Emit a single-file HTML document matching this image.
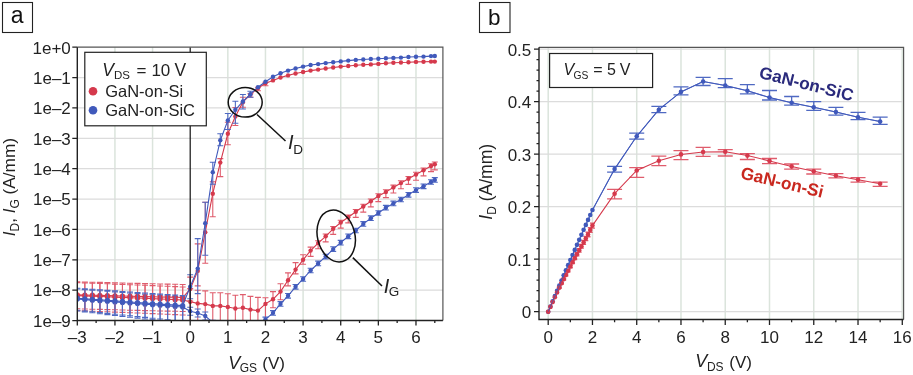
<!DOCTYPE html>
<html><head><meta charset="utf-8"><title>Figure</title>
<style>html,body{margin:0;padding:0;background:#fff;width:913px;height:375px;overflow:hidden;}
svg{display:block;font-family:"Liberation Sans",sans-serif;will-change:transform;}</style></head>
<body>
<svg width="913" height="375" viewBox="0 0 913 375">
<defs><clipPath id="ca"><rect x="77.3" y="47.2" width="365.6" height="273.3"/></clipPath>
<clipPath id="cb"><rect x="539" y="47.3" width="364.6" height="272.2"/></clipPath></defs>
<rect width="913" height="375" fill="#fff"/>
<rect x="2.5" y="2.5" width="30" height="30" fill="none" stroke="#222" stroke-width="1.1"/>
<text x="10.72" y="23.4" font-size="23" font-family="'Liberation Sans', sans-serif" fill="#111">a</text>
<rect x="479.5" y="2.5" width="30.5" height="30" fill="none" stroke="#222" stroke-width="1.1"/>
<text x="488.05" y="25.4" font-size="22.5" font-family="'Liberation Sans', sans-serif" fill="#111">b</text>
<path d="M114.94 47.2V320.5M152.57 47.2V320.5M227.83 47.2V320.5M265.46 47.2V320.5M303.09 47.2V320.5M340.72 47.2V320.5M378.35 47.2V320.5M415.98 47.2V320.5" stroke="#dbe4dc" stroke-width="1.5" fill="none"/>
<path d="M77.3 77.57H442.9M77.3 107.94H442.9M77.3 138.31H442.9M77.3 168.68H442.9M77.3 199.05H442.9M77.3 229.42H442.9M77.3 259.79H442.9M77.3 290.16H442.9" stroke="#dcdcdc" stroke-width="1.3" fill="none"/>
<g clip-path="url(#ca)">
<path d="M77.31 282.6V310.6M74.31 282.6h6M74.31 310.6h6M84.84 282.9V310.9M81.84 282.9h6M81.84 310.9h6M92.36 283.2V311.2M89.36 283.2h6M89.36 311.2h6M99.89 283.5V311.5M96.89 283.5h6M96.89 311.5h6M107.41 283.8V311.8M104.41 283.8h6M104.41 311.8h6M114.94 284.1V312.1M111.94 284.1h6M111.94 312.1h6M122.47 284.4V312.4M119.47 284.4h6M119.47 312.4h6M129.99 284.7V312.7M126.99 284.7h6M126.99 312.7h6M137.52 285V313M134.52 285h6M134.52 313h6M145.04 285.3V313.3M142.04 285.3h6M142.04 313.3h6M152.57 285.6V313.6M149.57 285.6h6M149.57 313.6h6M160.1 285.95V313.95M157.1 285.95h6M157.1 313.95h6M167.62 286.3V314.3M164.62 286.3h6M164.62 314.3h6M175.15 286.65V314.65M172.15 286.65h6M172.15 314.65h6M182.67 287V315M179.67 287h6M179.67 315h6M190.2 288.6V321.8M187.2 288.6h6M187.2 321.8h6M197.73 290.2V323.4M194.73 290.2h6M194.73 323.4h6M205.25 290.9V324.1M202.25 290.9h6M202.25 324.1h6M212.78 292.7V325.9M209.78 292.7h6M209.78 325.9h6M220.3 292.7V325.9M217.3 292.7h6M217.3 325.9h6M227.83 293.8V327M224.83 293.8h6M224.83 327h6M235.36 295.3V328.5M232.36 295.3h6M232.36 328.5h6M242.88 294.6V327.8M239.88 294.6h6M239.88 327.8h6M250.41 296.4V329.6M247.41 296.4h6M247.41 329.6h6M257.93 297.4V330.6M254.93 297.4h6M254.93 330.6h6M265.46 297.7V323.9M262.46 297.7h6M262.46 323.9h6M272.99 291.6V307.8M269.99 291.6h6M269.99 307.8h6M280.51 283.7V299.7M277.51 283.7h6M277.51 299.7h6M288.04 272.9V285.9M285.04 272.9h6M285.04 285.9h6M295.56 262.6V273.9M292.56 262.6h6M292.56 273.9h6M303.09 254.8V264.2M300.09 254.8h6M300.09 264.2h6M310.62 247.1V256.4M307.62 247.1h6M307.62 256.4h6M318.14 240.8V248.7M315.14 240.8h6M315.14 248.7h6M325.67 234V241.9M322.67 234h6M322.67 241.9h6M333.19 226.5V234.4M330.19 226.5h6M330.19 234.4h6M340.72 220.2V228.1M337.72 220.2h6M337.72 228.1h6M348.25 215V222.9M345.25 215h6M345.25 222.9h6M355.77 209.5V217.4M352.77 209.5h6M352.77 217.4h6M363.3 204.2V212.1M360.3 204.2h6M360.3 212.1h6M370.82 199V206.9M367.82 199h6M367.82 206.9h6M378.35 193.7V201.6M375.35 193.7h6M375.35 201.6h6M385.88 189.7V197.6M382.88 189.7h6M382.88 197.6h6M393.4 185.1V193M390.4 185.1h6M390.4 193h6M400.93 180.8V188.7M397.93 180.8h6M397.93 188.7h6M408.45 176.5V184.4M405.45 176.5h6M405.45 184.4h6M415.98 172.3V180.2M412.98 172.3h6M412.98 180.2h6M423.51 168V175.9M420.51 168h6M420.51 175.9h6M431.03 163.7V171.6M428.03 163.7h6M428.03 171.6h6M434.8 162V169.9M431.8 162h6M431.8 169.9h6" stroke="#df5c6c" stroke-width="1.1" fill="none"/>
<path d="M77.31 295.6L84.84 295.9L92.36 296.2L99.89 296.5L107.41 296.8L114.94 297.1L122.47 297.4L129.99 297.7L137.52 298L145.04 298.3L152.57 298.6L160.1 298.95L167.62 299.3L175.15 299.65L182.67 300L190.2 301.8L197.73 303.4L205.25 304.1L212.78 305.9L220.3 305.9L227.83 307L235.36 308.5L242.88 307.8L250.41 309.6L257.93 310.6L265.46 303.9L272.99 299.3L280.51 291.6L288.04 280.3L295.56 269.6L303.09 259.8L310.62 250.6L318.14 243.1L325.67 236.3L333.19 228.8L340.72 222.5L348.25 217.3L355.77 211.8L363.3 206.5L370.82 201.3L378.35 196L385.88 192L393.4 187.4L400.93 183.1L408.45 178.8L415.98 174.6L423.51 170.3L431.03 166L434.8 164.3" stroke="#d5394c" stroke-width="1.1" fill="none"/>
<circle fill="#d5394c" cx="77.31" cy="295.6" r="2.6"/>
<circle fill="#d5394c" cx="84.84" cy="295.9" r="2.6"/>
<circle fill="#d5394c" cx="92.36" cy="296.2" r="2.6"/>
<circle fill="#d5394c" cx="99.89" cy="296.5" r="2.6"/>
<circle fill="#d5394c" cx="107.41" cy="296.8" r="2.6"/>
<circle fill="#d5394c" cx="114.94" cy="297.1" r="2.6"/>
<circle fill="#d5394c" cx="122.47" cy="297.4" r="2.6"/>
<circle fill="#d5394c" cx="129.99" cy="297.7" r="2.6"/>
<circle fill="#d5394c" cx="137.52" cy="298" r="2.6"/>
<circle fill="#d5394c" cx="145.04" cy="298.3" r="2.6"/>
<circle fill="#d5394c" cx="152.57" cy="298.6" r="2.6"/>
<circle fill="#d5394c" cx="160.1" cy="298.95" r="2.6"/>
<circle fill="#d5394c" cx="167.62" cy="299.3" r="2.6"/>
<circle fill="#d5394c" cx="175.15" cy="299.65" r="2.6"/>
<circle fill="#d5394c" cx="182.67" cy="300" r="2.6"/>
<circle fill="#d5394c" cx="190.2" cy="301.8" r="2.2"/>
<circle fill="#d5394c" cx="197.73" cy="303.4" r="2.2"/>
<circle fill="#d5394c" cx="205.25" cy="304.1" r="2.2"/>
<circle fill="#d5394c" cx="212.78" cy="305.9" r="2.2"/>
<circle fill="#d5394c" cx="220.3" cy="305.9" r="2.2"/>
<circle fill="#d5394c" cx="227.83" cy="307" r="2.2"/>
<circle fill="#d5394c" cx="235.36" cy="308.5" r="2.2"/>
<circle fill="#d5394c" cx="242.88" cy="307.8" r="2.2"/>
<circle fill="#d5394c" cx="250.41" cy="309.6" r="2.2"/>
<circle fill="#d5394c" cx="257.93" cy="310.6" r="2.2"/>
<circle fill="#d5394c" cx="265.46" cy="303.9" r="2.2"/>
<circle fill="#d5394c" cx="272.99" cy="299.3" r="2.2"/>
<circle fill="#d5394c" cx="280.51" cy="291.6" r="2.2"/>
<circle fill="#d5394c" cx="288.04" cy="280.3" r="2.2"/>
<circle fill="#d5394c" cx="295.56" cy="269.6" r="2.2"/>
<circle fill="#d5394c" cx="303.09" cy="259.8" r="2.2"/>
<circle fill="#d5394c" cx="310.62" cy="250.6" r="2.2"/>
<circle fill="#d5394c" cx="318.14" cy="243.1" r="2.2"/>
<circle fill="#d5394c" cx="325.67" cy="236.3" r="2.2"/>
<circle fill="#d5394c" cx="333.19" cy="228.8" r="2.2"/>
<circle fill="#d5394c" cx="340.72" cy="222.5" r="2.2"/>
<circle fill="#d5394c" cx="348.25" cy="217.3" r="2.2"/>
<circle fill="#d5394c" cx="355.77" cy="211.8" r="2.2"/>
<circle fill="#d5394c" cx="363.3" cy="206.5" r="2.2"/>
<circle fill="#d5394c" cx="370.82" cy="201.3" r="2.2"/>
<circle fill="#d5394c" cx="378.35" cy="196" r="2.2"/>
<circle fill="#d5394c" cx="385.88" cy="192" r="2.2"/>
<circle fill="#d5394c" cx="393.4" cy="187.4" r="2.2"/>
<circle fill="#d5394c" cx="400.93" cy="183.1" r="2.2"/>
<circle fill="#d5394c" cx="408.45" cy="178.8" r="2.2"/>
<circle fill="#d5394c" cx="415.98" cy="174.6" r="2.2"/>
<circle fill="#d5394c" cx="423.51" cy="170.3" r="2.2"/>
<circle fill="#d5394c" cx="431.03" cy="166" r="2.2"/>
<circle fill="#d5394c" cx="434.8" cy="164.3" r="2.2"/>
<path d="M77.31 289V311M74.31 289h6M74.31 311h6M84.84 289.58V311.9M81.84 289.58h6M81.84 311.9h6M92.36 290.16V312.8M89.36 290.16h6M89.36 312.8h6M99.89 290.74V313.7M96.89 290.74h6M96.89 313.7h6M107.41 291.32V314.6M104.41 291.32h6M104.41 314.6h6M114.94 291.9V315.5M111.94 291.9h6M111.94 315.5h6M122.47 292.46V316.38M119.47 292.46h6M119.47 316.38h6M129.99 293.02V317.26M126.99 293.02h6M126.99 317.26h6M137.52 293.58V318.14M134.52 293.58h6M134.52 318.14h6M145.04 294.14V319.02M142.04 294.14h6M142.04 319.02h6M152.57 294.7V319.9M149.57 294.7h6M149.57 319.9h6M160.1 295.27V320.79M157.1 295.27h6M157.1 320.79h6M167.62 295.85V321.69M164.62 295.85h6M164.62 321.69h6M175.15 296.43V322.59M172.15 296.43h6M172.15 322.59h6M182.67 297V323.48M179.67 297h6M179.67 323.48h6M190.2 307.3V315.3M187.2 307.3h6M187.2 315.3h6M197.73 309V317M194.73 309h6M194.73 317h6M205.25 312V320M202.25 312h6M202.25 320h6M212.78 320.2V324.8M209.78 320.2h6M209.78 324.8h6M265.46 317.1V321.7M262.46 317.1h6M262.46 321.7h6M272.99 310.6V315.2M269.99 310.6h6M269.99 315.2h6M280.51 301.6V306.2M277.51 301.6h6M277.51 306.2h6M288.04 293.5V298.1M285.04 293.5h6M285.04 298.1h6M295.56 284.5V289.1M292.56 284.5h6M292.56 289.1h6M303.09 276.7V281.3M300.09 276.7h6M300.09 281.3h6M310.62 268.2V272.8M307.62 268.2h6M307.62 272.8h6M318.14 261.1V265.7M315.14 261.1h6M315.14 265.7h6M325.67 254.3V258.9M322.67 254.3h6M322.67 258.9h6M333.19 246.8V251.4M330.19 246.8h6M330.19 251.4h6M340.72 240.4V245M337.72 240.4h6M337.72 245h6M348.25 234V238.6M345.25 234h6M345.25 238.6h6M355.77 228.2V232.8M352.77 228.2h6M352.77 232.8h6M363.3 221.6V226.2M360.3 221.6h6M360.3 226.2h6M370.82 215.9V220.5M367.82 215.9h6M367.82 220.5h6M378.35 210.7V215.3M375.35 210.7h6M375.35 215.3h6M385.88 205.4V210M382.88 205.4h6M382.88 210h6M393.4 201.1V205.7M390.4 201.1h6M390.4 205.7h6M400.93 197.2V201.8M397.93 197.2h6M397.93 201.8h6M408.45 192.5V197.1M405.45 192.5h6M405.45 197.1h6M415.98 187.8V192.4M412.98 187.8h6M412.98 192.4h6M423.51 184V188.6M420.51 184h6M420.51 188.6h6M431.03 179.7V184.3M428.03 179.7h6M428.03 184.3h6M434.8 177.6V182.2M431.8 177.6h6M431.8 182.2h6" stroke="#4f69c2" stroke-width="1.1" fill="none"/>
<path d="M77.31 299L84.84 299.58L92.36 300.16L99.89 300.74L107.41 301.32L114.94 301.9L122.47 302.46L129.99 303.02L137.52 303.58L145.04 304.14L152.57 304.7L160.1 305.27L167.62 305.85L175.15 306.43L182.67 307L190.2 311.3L197.73 313L205.25 316L212.78 322.5M265.46 319.4L272.99 312.9L280.51 303.9L288.04 295.8L295.56 286.8L303.09 279L310.62 270.5L318.14 263.4L325.67 256.6L333.19 249.1L340.72 242.7L348.25 236.3L355.77 230.5L363.3 223.9L370.82 218.2L378.35 213L385.88 207.7L393.4 203.4L400.93 199.5L408.45 194.8L415.98 190.1L423.51 186.3L431.03 182L434.8 179.9" stroke="#4059bb" stroke-width="1.1" fill="none"/>
<circle fill="#4059bb" cx="77.31" cy="299" r="2.6"/>
<circle fill="#4059bb" cx="84.84" cy="299.58" r="2.6"/>
<circle fill="#4059bb" cx="92.36" cy="300.16" r="2.6"/>
<circle fill="#4059bb" cx="99.89" cy="300.74" r="2.6"/>
<circle fill="#4059bb" cx="107.41" cy="301.32" r="2.6"/>
<circle fill="#4059bb" cx="114.94" cy="301.9" r="2.6"/>
<circle fill="#4059bb" cx="122.47" cy="302.46" r="2.6"/>
<circle fill="#4059bb" cx="129.99" cy="303.02" r="2.6"/>
<circle fill="#4059bb" cx="137.52" cy="303.58" r="2.6"/>
<circle fill="#4059bb" cx="145.04" cy="304.14" r="2.6"/>
<circle fill="#4059bb" cx="152.57" cy="304.7" r="2.6"/>
<circle fill="#4059bb" cx="160.1" cy="305.27" r="2.6"/>
<circle fill="#4059bb" cx="167.62" cy="305.85" r="2.6"/>
<circle fill="#4059bb" cx="175.15" cy="306.43" r="2.6"/>
<circle fill="#4059bb" cx="182.67" cy="307" r="2.6"/>
<circle fill="#4059bb" cx="190.2" cy="311.3" r="2.2"/>
<circle fill="#4059bb" cx="197.73" cy="313" r="2.2"/>
<circle fill="#4059bb" cx="205.25" cy="316" r="2.2"/>
<circle fill="#4059bb" cx="212.78" cy="322.5" r="2.2"/>
<circle fill="#4059bb" cx="265.46" cy="319.4" r="2.2"/>
<circle fill="#4059bb" cx="272.99" cy="312.9" r="2.2"/>
<circle fill="#4059bb" cx="280.51" cy="303.9" r="2.2"/>
<circle fill="#4059bb" cx="288.04" cy="295.8" r="2.2"/>
<circle fill="#4059bb" cx="295.56" cy="286.8" r="2.2"/>
<circle fill="#4059bb" cx="303.09" cy="279" r="2.2"/>
<circle fill="#4059bb" cx="310.62" cy="270.5" r="2.2"/>
<circle fill="#4059bb" cx="318.14" cy="263.4" r="2.2"/>
<circle fill="#4059bb" cx="325.67" cy="256.6" r="2.2"/>
<circle fill="#4059bb" cx="333.19" cy="249.1" r="2.2"/>
<circle fill="#4059bb" cx="340.72" cy="242.7" r="2.2"/>
<circle fill="#4059bb" cx="348.25" cy="236.3" r="2.2"/>
<circle fill="#4059bb" cx="355.77" cy="230.5" r="2.2"/>
<circle fill="#4059bb" cx="363.3" cy="223.9" r="2.2"/>
<circle fill="#4059bb" cx="370.82" cy="218.2" r="2.2"/>
<circle fill="#4059bb" cx="378.35" cy="213" r="2.2"/>
<circle fill="#4059bb" cx="385.88" cy="207.7" r="2.2"/>
<circle fill="#4059bb" cx="393.4" cy="203.4" r="2.2"/>
<circle fill="#4059bb" cx="400.93" cy="199.5" r="2.2"/>
<circle fill="#4059bb" cx="408.45" cy="194.8" r="2.2"/>
<circle fill="#4059bb" cx="415.98" cy="190.1" r="2.2"/>
<circle fill="#4059bb" cx="423.51" cy="186.3" r="2.2"/>
<circle fill="#4059bb" cx="431.03" cy="182" r="2.2"/>
<circle fill="#4059bb" cx="434.8" cy="179.9" r="2.2"/>
<path d="M77.31 281.8V308.8M74.31 281.8h6M74.31 308.8h6M84.84 282V309M81.84 282h6M81.84 309h6M92.36 282.2V309.2M89.36 282.2h6M89.36 309.2h6M99.89 282.4V309.4M96.89 282.4h6M96.89 309.4h6M107.41 282.6V309.6M104.41 282.6h6M104.41 309.6h6M114.94 282.8V309.8M111.94 282.8h6M111.94 309.8h6M122.47 283V310M119.47 283h6M119.47 310h6M129.99 283.2V310.2M126.99 283.2h6M126.99 310.2h6M137.52 283.4V310.4M134.52 283.4h6M134.52 310.4h6M145.04 283.6V310.6M142.04 283.6h6M142.04 310.6h6M152.57 283.8V310.8M149.57 283.8h6M149.57 310.8h6M160.1 283.98V310.98M157.1 283.98h6M157.1 310.98h6M167.62 284.15V311.15M164.62 284.15h6M164.62 311.15h6M175.15 284.32V311.32M172.15 284.32h6M172.15 311.32h6M182.67 284.5V311.5M179.67 284.5h6M179.67 311.5h6M190.2 277.1V301.1M187.2 277.1h6M187.2 301.1h6M197.73 243.9V285.9M194.73 243.9h6M194.73 285.9h6M205.25 202.2V263.2M202.25 202.2h6M202.25 263.2h6M212.78 181.7V216.7M209.78 181.7h6M209.78 216.7h6M220.3 158.6V176.6M217.3 158.6h6M217.3 176.6h6M227.83 122.3V144.8M224.83 122.3h6M224.83 144.8h6M235.36 107.5V125.5M232.36 107.5h6M232.36 125.5h6M242.88 97.2V107.2M239.88 97.2h6M239.88 107.2h6M250.41 93.7V97.3M247.41 93.7h6M247.41 97.3h6M257.93 87.2V90.8M254.93 87.2h6M254.93 90.8h6M265.46 82.2V85.8M262.46 82.2h6M262.46 85.8h6" stroke="#df5c6c" stroke-width="1.1" fill="none"/>
<path d="M77.31 294.8L84.84 295L92.36 295.2L99.89 295.4L107.41 295.6L114.94 295.8L122.47 296L129.99 296.2L137.52 296.4L145.04 296.6L152.57 296.8L160.1 296.98L167.62 297.15L175.15 297.32L182.67 297.5L190.2 289.1L197.73 270.9L205.25 232.2L212.78 193.7L220.3 162.6L227.83 133.8L235.36 116.5L242.88 102.2L250.41 94.7L257.93 88.2L265.46 83.2L272.99 80.4L280.51 77.5L288.04 75.4L295.56 73.5L303.09 72L310.62 70.6L318.14 69.6L325.67 68.5L333.19 67.5L340.72 66.6L348.25 66L355.77 65.2L363.3 64.8L370.82 64.4L378.35 63.9L385.88 63.3L393.4 62.8L400.93 62.5L408.45 62.3L415.98 61.9L423.51 61.7L431.03 61.6L434.8 61.6" stroke="#d5394c" stroke-width="1.1" fill="none"/>
<circle fill="#d5394c" cx="77.31" cy="294.8" r="2.6"/>
<circle fill="#d5394c" cx="84.84" cy="295" r="2.6"/>
<circle fill="#d5394c" cx="92.36" cy="295.2" r="2.6"/>
<circle fill="#d5394c" cx="99.89" cy="295.4" r="2.6"/>
<circle fill="#d5394c" cx="107.41" cy="295.6" r="2.6"/>
<circle fill="#d5394c" cx="114.94" cy="295.8" r="2.6"/>
<circle fill="#d5394c" cx="122.47" cy="296" r="2.6"/>
<circle fill="#d5394c" cx="129.99" cy="296.2" r="2.6"/>
<circle fill="#d5394c" cx="137.52" cy="296.4" r="2.6"/>
<circle fill="#d5394c" cx="145.04" cy="296.6" r="2.6"/>
<circle fill="#d5394c" cx="152.57" cy="296.8" r="2.6"/>
<circle fill="#d5394c" cx="160.1" cy="296.98" r="2.6"/>
<circle fill="#d5394c" cx="167.62" cy="297.15" r="2.6"/>
<circle fill="#d5394c" cx="175.15" cy="297.32" r="2.6"/>
<circle fill="#d5394c" cx="182.67" cy="297.5" r="2.6"/>
<circle fill="#d5394c" cx="190.2" cy="289.1" r="2.2"/>
<circle fill="#d5394c" cx="197.73" cy="270.9" r="2.2"/>
<circle fill="#d5394c" cx="205.25" cy="232.2" r="2.2"/>
<circle fill="#d5394c" cx="212.78" cy="193.7" r="2.2"/>
<circle fill="#d5394c" cx="220.3" cy="162.6" r="2.2"/>
<circle fill="#d5394c" cx="227.83" cy="133.8" r="2.2"/>
<circle fill="#d5394c" cx="235.36" cy="116.5" r="2.2"/>
<circle fill="#d5394c" cx="242.88" cy="102.2" r="2.2"/>
<circle fill="#d5394c" cx="250.41" cy="94.7" r="2.2"/>
<circle fill="#d5394c" cx="257.93" cy="88.2" r="2.2"/>
<circle fill="#d5394c" cx="265.46" cy="83.2" r="2.2"/>
<circle fill="#d5394c" cx="272.99" cy="80.4" r="2.2"/>
<circle fill="#d5394c" cx="280.51" cy="77.5" r="2.2"/>
<circle fill="#d5394c" cx="288.04" cy="75.4" r="2.2"/>
<circle fill="#d5394c" cx="295.56" cy="73.5" r="2.2"/>
<circle fill="#d5394c" cx="303.09" cy="72" r="2.2"/>
<circle fill="#d5394c" cx="310.62" cy="70.6" r="2.2"/>
<circle fill="#d5394c" cx="318.14" cy="69.6" r="2.2"/>
<circle fill="#d5394c" cx="325.67" cy="68.5" r="2.2"/>
<circle fill="#d5394c" cx="333.19" cy="67.5" r="2.2"/>
<circle fill="#d5394c" cx="340.72" cy="66.6" r="2.2"/>
<circle fill="#d5394c" cx="348.25" cy="66" r="2.2"/>
<circle fill="#d5394c" cx="355.77" cy="65.2" r="2.2"/>
<circle fill="#d5394c" cx="363.3" cy="64.8" r="2.2"/>
<circle fill="#d5394c" cx="370.82" cy="64.4" r="2.2"/>
<circle fill="#d5394c" cx="378.35" cy="63.9" r="2.2"/>
<circle fill="#d5394c" cx="385.88" cy="63.3" r="2.2"/>
<circle fill="#d5394c" cx="393.4" cy="62.8" r="2.2"/>
<circle fill="#d5394c" cx="400.93" cy="62.5" r="2.2"/>
<circle fill="#d5394c" cx="408.45" cy="62.3" r="2.2"/>
<circle fill="#d5394c" cx="415.98" cy="61.9" r="2.2"/>
<circle fill="#d5394c" cx="423.51" cy="61.7" r="2.2"/>
<circle fill="#d5394c" cx="431.03" cy="61.6" r="2.2"/>
<circle fill="#d5394c" cx="434.8" cy="61.6" r="2.2"/>
<path d="M77.31 288.2V310.2M74.31 288.2h6M74.31 310.2h6M84.84 288.74V311M81.84 288.74h6M81.84 311h6M92.36 289.28V311.8M89.36 289.28h6M89.36 311.8h6M99.89 289.82V312.6M96.89 289.82h6M96.89 312.6h6M107.41 290.36V313.4M104.41 290.36h6M104.41 313.4h6M114.94 290.9V314.2M111.94 290.9h6M111.94 314.2h6M122.47 291.44V315M119.47 291.44h6M119.47 315h6M129.99 291.98V315.8M126.99 291.98h6M126.99 315.8h6M137.52 292.52V316.6M134.52 292.52h6M134.52 316.6h6M145.04 293.06V317.4M142.04 293.06h6M142.04 317.4h6M152.57 293.6V318.2M149.57 293.6h6M149.57 318.2h6M160.1 294.1V318.96M157.1 294.1h6M157.1 318.96h6M167.62 294.6V319.72M164.62 294.6h6M164.62 319.72h6M175.15 295.1V320.48M172.15 295.1h6M172.15 320.48h6M182.67 295.6V321.24M179.67 295.6h6M179.67 321.24h6M190.2 274.8V298.8M187.2 274.8h6M187.2 298.8h6M197.73 238.6V293.6M194.73 238.6h6M194.73 293.6h6M205.25 202.2V255.2M202.25 202.2h6M202.25 255.2h6M212.78 162.3V184.3M209.78 162.3h6M209.78 184.3h6M220.3 133.8V145.8M217.3 133.8h6M217.3 145.8h6M227.83 113.5V129.5M224.83 113.5h6M224.83 129.5h6M235.36 101.3V123.3M232.36 101.3h6M232.36 123.3h6M242.88 94.5V109M239.88 94.5h6M239.88 109h6M250.41 91.2V97.2M247.41 91.2h6M247.41 97.2h6" stroke="#4f69c2" stroke-width="1.1" fill="none"/>
<path d="M77.31 298.2L84.84 298.74L92.36 299.28L99.89 299.82L107.41 300.36L114.94 300.9L122.47 301.44L129.99 301.98L137.52 302.52L145.04 303.06L152.57 303.6L160.1 304.1L167.62 304.6L175.15 305.1L182.67 305.6L190.2 286.8L197.73 268.6L205.25 223.2L212.78 172.3L220.3 140.3L227.83 120.5L235.36 109.8L242.88 101.5L250.41 94.2L257.93 87.2L265.46 81.8L272.99 76.8L280.51 73.3L288.04 70.6L295.56 68.5L303.09 66.6L310.62 65L318.14 64.1L325.67 63.1L333.19 62.3L340.72 61.4L348.25 60.6L355.77 59.9L363.3 59.5L370.82 59L378.35 58.7L385.88 58.2L393.4 57.9L400.93 57.6L408.45 57L415.98 56.7L423.51 56.6L431.03 56.1L434.8 56" stroke="#4059bb" stroke-width="1.1" fill="none"/>
<circle fill="#4059bb" cx="77.31" cy="298.2" r="2.6"/>
<circle fill="#4059bb" cx="84.84" cy="298.74" r="2.6"/>
<circle fill="#4059bb" cx="92.36" cy="299.28" r="2.6"/>
<circle fill="#4059bb" cx="99.89" cy="299.82" r="2.6"/>
<circle fill="#4059bb" cx="107.41" cy="300.36" r="2.6"/>
<circle fill="#4059bb" cx="114.94" cy="300.9" r="2.6"/>
<circle fill="#4059bb" cx="122.47" cy="301.44" r="2.6"/>
<circle fill="#4059bb" cx="129.99" cy="301.98" r="2.6"/>
<circle fill="#4059bb" cx="137.52" cy="302.52" r="2.6"/>
<circle fill="#4059bb" cx="145.04" cy="303.06" r="2.6"/>
<circle fill="#4059bb" cx="152.57" cy="303.6" r="2.6"/>
<circle fill="#4059bb" cx="160.1" cy="304.1" r="2.6"/>
<circle fill="#4059bb" cx="167.62" cy="304.6" r="2.6"/>
<circle fill="#4059bb" cx="175.15" cy="305.1" r="2.6"/>
<circle fill="#4059bb" cx="182.67" cy="305.6" r="2.6"/>
<circle fill="#4059bb" cx="190.2" cy="286.8" r="2.2"/>
<circle fill="#4059bb" cx="197.73" cy="268.6" r="2.2"/>
<circle fill="#4059bb" cx="205.25" cy="223.2" r="2.2"/>
<circle fill="#4059bb" cx="212.78" cy="172.3" r="2.2"/>
<circle fill="#4059bb" cx="220.3" cy="140.3" r="2.2"/>
<circle fill="#4059bb" cx="227.83" cy="120.5" r="2.2"/>
<circle fill="#4059bb" cx="235.36" cy="109.8" r="2.2"/>
<circle fill="#4059bb" cx="242.88" cy="101.5" r="2.2"/>
<circle fill="#4059bb" cx="250.41" cy="94.2" r="2.2"/>
<circle fill="#4059bb" cx="257.93" cy="87.2" r="2.2"/>
<circle fill="#4059bb" cx="265.46" cy="81.8" r="2.2"/>
<circle fill="#4059bb" cx="272.99" cy="76.8" r="2.2"/>
<circle fill="#4059bb" cx="280.51" cy="73.3" r="2.2"/>
<circle fill="#4059bb" cx="288.04" cy="70.6" r="2.2"/>
<circle fill="#4059bb" cx="295.56" cy="68.5" r="2.2"/>
<circle fill="#4059bb" cx="303.09" cy="66.6" r="2.2"/>
<circle fill="#4059bb" cx="310.62" cy="65" r="2.2"/>
<circle fill="#4059bb" cx="318.14" cy="64.1" r="2.2"/>
<circle fill="#4059bb" cx="325.67" cy="63.1" r="2.2"/>
<circle fill="#4059bb" cx="333.19" cy="62.3" r="2.2"/>
<circle fill="#4059bb" cx="340.72" cy="61.4" r="2.2"/>
<circle fill="#4059bb" cx="348.25" cy="60.6" r="2.2"/>
<circle fill="#4059bb" cx="355.77" cy="59.9" r="2.2"/>
<circle fill="#4059bb" cx="363.3" cy="59.5" r="2.2"/>
<circle fill="#4059bb" cx="370.82" cy="59" r="2.2"/>
<circle fill="#4059bb" cx="378.35" cy="58.7" r="2.2"/>
<circle fill="#4059bb" cx="385.88" cy="58.2" r="2.2"/>
<circle fill="#4059bb" cx="393.4" cy="57.9" r="2.2"/>
<circle fill="#4059bb" cx="400.93" cy="57.6" r="2.2"/>
<circle fill="#4059bb" cx="408.45" cy="57" r="2.2"/>
<circle fill="#4059bb" cx="415.98" cy="56.7" r="2.2"/>
<circle fill="#4059bb" cx="423.51" cy="56.6" r="2.2"/>
<circle fill="#4059bb" cx="431.03" cy="56.1" r="2.2"/>
<circle fill="#4059bb" cx="434.8" cy="56" r="2.2"/>
</g>
<path d="M190.2 47.2V320.5" stroke="#111" stroke-width="1.2"/>
<path d="M77.3 47.2H442.9V320.5" stroke="#555" stroke-width="1.2" fill="none"/>
<path d="M77.3 47.2V320.5H442.9" stroke="#222" stroke-width="1.4" fill="none"/>
<path d="M72.3 47.2H77.3M72.3 77.57H77.3M72.3 107.94H77.3M72.3 138.31H77.3M72.3 168.68H77.3M72.3 199.05H77.3M72.3 229.42H77.3M72.3 259.79H77.3M72.3 290.16H77.3M72.3 320.53H77.3M77.31 320.5v5M114.94 320.5v5M152.57 320.5v5M190.2 320.5v5M227.83 320.5v5M265.46 320.5v5M303.09 320.5v5M340.72 320.5v5M378.35 320.5v5M415.98 320.5v5M96.12 320.5v2.5M133.75 320.5v2.5M171.38 320.5v2.5M209.01 320.5v2.5M246.64 320.5v2.5M284.27 320.5v2.5M321.9 320.5v2.5M359.53 320.5v2.5M397.16 320.5v2.5M434.8 320.5v2.5" stroke="#222" stroke-width="1.3" fill="none"/>
<text x="70.8" y="53.5" font-size="17" text-anchor="end" font-family="'Liberation Sans', sans-serif" fill="#222">1e+0</text>
<text x="70.8" y="83.87" font-size="17" text-anchor="end" font-family="'Liberation Sans', sans-serif" fill="#222">1e–1</text>
<text x="70.8" y="114.24" font-size="17" text-anchor="end" font-family="'Liberation Sans', sans-serif" fill="#222">1e–2</text>
<text x="70.8" y="144.61" font-size="17" text-anchor="end" font-family="'Liberation Sans', sans-serif" fill="#222">1e–3</text>
<text x="70.8" y="174.98" font-size="17" text-anchor="end" font-family="'Liberation Sans', sans-serif" fill="#222">1e–4</text>
<text x="70.8" y="205.35" font-size="17" text-anchor="end" font-family="'Liberation Sans', sans-serif" fill="#222">1e–5</text>
<text x="70.8" y="235.72" font-size="17" text-anchor="end" font-family="'Liberation Sans', sans-serif" fill="#222">1e–6</text>
<text x="70.8" y="266.09" font-size="17" text-anchor="end" font-family="'Liberation Sans', sans-serif" fill="#222">1e–7</text>
<text x="70.8" y="296.46" font-size="17" text-anchor="end" font-family="'Liberation Sans', sans-serif" fill="#222">1e–8</text>
<text x="70.8" y="326.83" font-size="17" text-anchor="end" font-family="'Liberation Sans', sans-serif" fill="#222">1e–9</text>
<text x="77.31" y="342.8" font-size="17" text-anchor="middle" font-family="'Liberation Sans', sans-serif" fill="#222">–3</text>
<text x="114.94" y="342.8" font-size="17" text-anchor="middle" font-family="'Liberation Sans', sans-serif" fill="#222">–2</text>
<text x="152.57" y="342.8" font-size="17" text-anchor="middle" font-family="'Liberation Sans', sans-serif" fill="#222">–1</text>
<text x="190.2" y="342.8" font-size="17" text-anchor="middle" font-family="'Liberation Sans', sans-serif" fill="#222">0</text>
<text x="227.83" y="342.8" font-size="17" text-anchor="middle" font-family="'Liberation Sans', sans-serif" fill="#222">1</text>
<text x="265.46" y="342.8" font-size="17" text-anchor="middle" font-family="'Liberation Sans', sans-serif" fill="#222">2</text>
<text x="303.09" y="342.8" font-size="17" text-anchor="middle" font-family="'Liberation Sans', sans-serif" fill="#222">3</text>
<text x="340.72" y="342.8" font-size="17" text-anchor="middle" font-family="'Liberation Sans', sans-serif" fill="#222">4</text>
<text x="378.35" y="342.8" font-size="17" text-anchor="middle" font-family="'Liberation Sans', sans-serif" fill="#222">5</text>
<text x="415.98" y="342.8" font-size="17" text-anchor="middle" font-family="'Liberation Sans', sans-serif" fill="#222">6</text>
<text x="228.14" y="368.7" font-size="18" font-style="italic" font-family="'Liberation Sans', sans-serif" fill="#222">V</text>
<text x="239.7" y="372.2" font-size="12" font-family="'Liberation Sans', sans-serif" fill="#222">GS</text>
<text x="262.25" y="368.5" font-size="17" font-family="'Liberation Sans', sans-serif" fill="#222">(V)</text>
<text transform="translate(14.8,236.3) rotate(-90)" font-size="17.2" font-family="'Liberation Sans', sans-serif" fill="#222"><tspan font-style="italic">I</tspan><tspan font-size="12" dy="4">D</tspan><tspan dy="-4">, </tspan><tspan font-style="italic">I</tspan><tspan font-size="12" dy="4">G</tspan><tspan dy="-4"> (A/mm)</tspan></text>
<rect x="84.8" y="52.3" width="121.5" height="73.5" fill="#fff" stroke="#222" stroke-width="1.2"/>
<text x="102.19" y="75.8" font-size="17.5" font-style="italic" font-family="'Liberation Sans', sans-serif" fill="#222">V</text>
<text x="114.06" y="79.4" font-size="11.5" font-family="'Liberation Sans', sans-serif" fill="#222">DS</text>
<text x="136.47" y="75.8" font-size="17" font-family="'Liberation Sans', sans-serif" fill="#222">=</text>
<text x="151.41" y="75.8" font-size="17" font-family="'Liberation Sans', sans-serif" fill="#222">10</text>
<text x="174.62" y="75.8" font-size="17.5" font-family="'Liberation Sans', sans-serif" fill="#222">V</text>
<circle cx="93" cy="91.3" r="4.3" fill="#d5394c"/>
<circle cx="93" cy="110.3" r="4.3" fill="#4059bb"/>
<text x="105.17" y="96.8" font-size="16.5" font-family="'Liberation Sans', sans-serif" fill="#222">GaN-on-Si</text>
<text x="105.17" y="116" font-size="16.5" font-family="'Liberation Sans', sans-serif" fill="#222">GaN-on-SiC</text>
<ellipse cx="245.2" cy="102.3" rx="17" ry="14.8" fill="none" stroke="#111" stroke-width="1.5"/>
<path d="M257 114.5L285.5 141" stroke="#111" stroke-width="1.5"/>
<text x="288.01" y="149.4" font-size="20" font-style="italic" font-family="'Liberation Sans', sans-serif" fill="#222">I</text>
<text x="293.29" y="153.8" font-size="13.5" font-family="'Liberation Sans', sans-serif" fill="#222">D</text>
<ellipse cx="336.2" cy="236" rx="18.7" ry="26.3" transform="rotate(-14 336.2 236)" fill="none" stroke="#111" stroke-width="1.5"/>
<path d="M352.8 257.6L382 286" stroke="#111" stroke-width="1.5"/>
<text x="383.81" y="292.8" font-size="20" font-style="italic" font-family="'Liberation Sans', sans-serif" fill="#222">I</text>
<text x="388.72" y="296.3" font-size="13.5" font-family="'Liberation Sans', sans-serif" fill="#222">G</text>
<path d="M548.2 47.3V319.5M592.46 47.3V319.5M636.72 47.3V319.5M680.98 47.3V319.5M725.24 47.3V319.5M769.5 47.3V319.5M813.76 47.3V319.5M858.02 47.3V319.5M902.28 47.3V319.5" stroke="#dbe4dc" stroke-width="1.5" fill="none"/>
<path d="M539 311.7H903.6M539 259.2H903.6M539 206.7H903.6M539 154.2H903.6M539 101.7H903.6M539 49.2H903.6" stroke="#dcdcdc" stroke-width="1.3" fill="none"/>
<g clip-path="url(#cb)">
<path d="M559.27 287.05V288.3M556.77 287.05h5M556.77 288.3h5M561.48 282.59V284.09M558.98 282.59h5M558.98 284.09h5M563.69 278.26V280.01M561.19 278.26h5M561.19 280.01h5M565.9 273.92V275.92M563.4 273.92h5M563.4 275.92h5M568.12 269.59V271.84M565.62 269.59h5M565.62 271.84h5M570.33 265.25V267.75M567.83 265.25h5M567.83 267.75h5M572.54 260.92V263.67M570.04 260.92h5M570.04 263.67h5M574.76 256.67V259.67M572.26 256.67h5M572.26 259.67h5M576.97 252.61V255.86M574.47 252.61h5M574.47 255.86h5M579.18 248.54V252.04M576.68 248.54h5M576.68 252.04h5M581.4 244.47V248.22M578.9 244.47h5M578.9 248.22h5M583.61 240.41V244.41M581.11 240.41h5M581.11 244.41h5M585.82 236.34V240.59M583.32 236.34h5M583.32 240.59h5M588.03 232.27V236.77M585.53 232.27h5M585.53 236.77h5M590.25 227.69V232.44M587.75 227.69h5M587.75 232.44h5M592.46 223.1V228.1M589.96 223.1h5M589.96 228.1h5M614.59 189.4V198.8M607.09 189.4h15M607.09 198.8h15M636.72 167.6V177.3M629.22 167.6h15M629.22 177.3h15M658.85 156.2V165.7M651.35 156.2h15M651.35 165.7h15M680.98 150.6V159.6M673.48 150.6h15M673.48 159.6h15M703.11 147.4V156.3M695.61 147.4h15M695.61 156.3h15M725.24 149.6V156M717.74 149.6h15M717.74 156h15M747.37 153.6V159.5M739.87 153.6h15M739.87 159.5h15M769.5 158.5V163.7M762 158.5h15M762 163.7h15M791.63 164V169.2M784.13 164h15M784.13 169.2h15M813.76 169.2V174M806.26 169.2h15M806.26 174h15M835.89 173.7V177.9M828.39 173.7h15M828.39 177.9h15M858.02 177.7V182.1M850.52 177.7h15M850.52 182.1h15M880.15 182.1V186.3M872.65 182.1h15M872.65 186.3h15" stroke="#df5c6c" stroke-width="1.3" fill="none"/>
<path d="M614.59 166.4V172.1M607.09 166.4h15M607.09 172.1h15M636.72 133.1V139.2M629.22 133.1h15M629.22 139.2h15M658.85 106.3V112.7M651.35 106.3h15M651.35 112.7h15M680.98 86.9V94.9M673.48 86.9h15M673.48 94.9h15M703.11 77.3V85.5M695.61 77.3h15M695.61 85.5h15M725.24 78.7V87.7M717.74 78.7h15M717.74 87.7h15M747.37 84.7V93.9M739.87 84.7h15M739.87 93.9h15M769.5 90.5V100M762 90.5h15M762 100h15M791.63 96.5V105.1M784.13 96.5h15M784.13 105.1h15M813.76 101.7V110.3M806.26 101.7h15M806.26 110.3h15M835.89 107.3V115.2M828.39 107.3h15M828.39 115.2h15M858.02 112.3V119.7M850.52 112.3h15M850.52 119.7h15M880.15 117.2V124.4M872.65 117.2h15M872.65 124.4h15" stroke="#4f69c2" stroke-width="1.3" fill="none"/>
<path d="M548.2 311.7L550.41 306.46L552.63 301.23L554.84 296.03L557.05 290.83L559.27 285.66L561.48 280.5L563.69 275.36L565.9 270.24L568.12 265.13L570.33 260.04L572.54 254.97L574.76 249.91L576.97 244.87L579.18 239.85L581.4 234.84L583.61 229.85L585.82 224.88L588.03 219.92L590.25 214.98L592.46 210.06L614.59 169.1L636.72 136.3L658.85 109.7L680.98 91.9L703.11 81.5L725.24 85.5L747.37 90.8L769.5 97.5L791.63 102.8L813.76 107.3L835.89 112L858.02 117.2L880.15 121.6" stroke="#4059bb" stroke-width="1.05" fill="none"/>
<circle cx="548.2" cy="311.7" r="2.3" fill="#4059bb"/>
<circle cx="550.41" cy="306.46" r="2.3" fill="#4059bb"/>
<circle cx="552.63" cy="301.23" r="2.3" fill="#4059bb"/>
<circle cx="554.84" cy="296.03" r="2.3" fill="#4059bb"/>
<circle cx="557.05" cy="290.83" r="2.3" fill="#4059bb"/>
<circle cx="559.27" cy="285.66" r="2.3" fill="#4059bb"/>
<circle cx="561.48" cy="280.5" r="2.3" fill="#4059bb"/>
<circle cx="563.69" cy="275.36" r="2.3" fill="#4059bb"/>
<circle cx="565.9" cy="270.24" r="2.3" fill="#4059bb"/>
<circle cx="568.12" cy="265.13" r="2.3" fill="#4059bb"/>
<circle cx="570.33" cy="260.04" r="2.3" fill="#4059bb"/>
<circle cx="572.54" cy="254.97" r="2.3" fill="#4059bb"/>
<circle cx="574.76" cy="249.91" r="2.3" fill="#4059bb"/>
<circle cx="576.97" cy="244.87" r="2.3" fill="#4059bb"/>
<circle cx="579.18" cy="239.85" r="2.3" fill="#4059bb"/>
<circle cx="581.4" cy="234.84" r="2.3" fill="#4059bb"/>
<circle cx="583.61" cy="229.85" r="2.3" fill="#4059bb"/>
<circle cx="585.82" cy="224.88" r="2.3" fill="#4059bb"/>
<circle cx="588.03" cy="219.92" r="2.3" fill="#4059bb"/>
<circle cx="590.25" cy="214.98" r="2.3" fill="#4059bb"/>
<circle cx="592.46" cy="210.06" r="2.3" fill="#4059bb"/>
<circle cx="614.59" cy="169.1" r="2.3" fill="#4059bb"/>
<circle cx="636.72" cy="136.3" r="2.3" fill="#4059bb"/>
<circle cx="658.85" cy="109.7" r="2.3" fill="#4059bb"/>
<circle cx="680.98" cy="91.9" r="2.3" fill="#4059bb"/>
<circle cx="703.11" cy="81.5" r="2.3" fill="#4059bb"/>
<circle cx="725.24" cy="85.5" r="2.3" fill="#4059bb"/>
<circle cx="747.37" cy="90.8" r="2.3" fill="#4059bb"/>
<circle cx="769.5" cy="97.5" r="2.3" fill="#4059bb"/>
<circle cx="791.63" cy="102.8" r="2.3" fill="#4059bb"/>
<circle cx="813.76" cy="107.3" r="2.3" fill="#4059bb"/>
<circle cx="835.89" cy="112" r="2.3" fill="#4059bb"/>
<circle cx="858.02" cy="117.2" r="2.3" fill="#4059bb"/>
<circle cx="880.15" cy="121.6" r="2.3" fill="#4059bb"/>
<path d="M548.2 311.7L550.41 306.89L552.63 302.09L554.84 297.28L557.05 292.48L559.27 287.67L561.48 283.34L563.69 279.13L565.9 274.92L568.12 270.71L570.33 266.5L572.54 262.29L574.76 258.17L576.97 254.23L579.18 250.29L581.4 246.35L583.61 242.41L585.82 238.47L588.03 234.52L590.25 230.06L592.46 225.6L614.59 193.7L636.72 170.5L658.85 160.8L680.98 154.4L703.11 152L725.24 151.8L747.37 155.6L769.5 160.9L791.63 166.4L813.76 171.3L835.89 175.7L858.02 179.7L880.15 183.7" stroke="#d5394c" stroke-width="1.05" fill="none"/>
<circle cx="548.2" cy="311.7" r="2.3" fill="#d5394c"/>
<circle cx="550.41" cy="306.89" r="2.3" fill="#d5394c"/>
<circle cx="552.63" cy="302.09" r="2.3" fill="#d5394c"/>
<circle cx="554.84" cy="297.28" r="2.3" fill="#d5394c"/>
<circle cx="557.05" cy="292.48" r="2.3" fill="#d5394c"/>
<circle cx="559.27" cy="287.67" r="2.3" fill="#d5394c"/>
<circle cx="561.48" cy="283.34" r="2.3" fill="#d5394c"/>
<circle cx="563.69" cy="279.13" r="2.3" fill="#d5394c"/>
<circle cx="565.9" cy="274.92" r="2.3" fill="#d5394c"/>
<circle cx="568.12" cy="270.71" r="2.3" fill="#d5394c"/>
<circle cx="570.33" cy="266.5" r="2.3" fill="#d5394c"/>
<circle cx="572.54" cy="262.29" r="2.3" fill="#d5394c"/>
<circle cx="574.76" cy="258.17" r="2.3" fill="#d5394c"/>
<circle cx="576.97" cy="254.23" r="2.3" fill="#d5394c"/>
<circle cx="579.18" cy="250.29" r="2.3" fill="#d5394c"/>
<circle cx="581.4" cy="246.35" r="2.3" fill="#d5394c"/>
<circle cx="583.61" cy="242.41" r="2.3" fill="#d5394c"/>
<circle cx="585.82" cy="238.47" r="2.3" fill="#d5394c"/>
<circle cx="588.03" cy="234.52" r="2.3" fill="#d5394c"/>
<circle cx="590.25" cy="230.06" r="2.3" fill="#d5394c"/>
<circle cx="592.46" cy="225.6" r="2.3" fill="#d5394c"/>
<circle cx="614.59" cy="193.7" r="2.3" fill="#d5394c"/>
<circle cx="636.72" cy="170.5" r="2.3" fill="#d5394c"/>
<circle cx="658.85" cy="160.8" r="2.3" fill="#d5394c"/>
<circle cx="680.98" cy="154.4" r="2.3" fill="#d5394c"/>
<circle cx="703.11" cy="152" r="2.3" fill="#d5394c"/>
<circle cx="725.24" cy="151.8" r="2.3" fill="#d5394c"/>
<circle cx="747.37" cy="155.6" r="2.3" fill="#d5394c"/>
<circle cx="769.5" cy="160.9" r="2.3" fill="#d5394c"/>
<circle cx="791.63" cy="166.4" r="2.3" fill="#d5394c"/>
<circle cx="813.76" cy="171.3" r="2.3" fill="#d5394c"/>
<circle cx="835.89" cy="175.7" r="2.3" fill="#d5394c"/>
<circle cx="858.02" cy="179.7" r="2.3" fill="#d5394c"/>
<circle cx="880.15" cy="183.7" r="2.3" fill="#d5394c"/>
<path d="M548.2 311.7L550.41 306.46L552.63 301.23L554.84 296.03L557.05 290.83L559.27 285.66L561.48 280.5L563.69 275.36L565.9 270.24L568.12 265.13L570.33 260.04L572.54 254.97L574.76 249.91L576.97 244.87L579.18 239.85L581.4 234.84L583.61 229.85L585.82 224.88L588.03 219.92L590.25 214.98L592.46 210.06L614.59 169.1L636.72 136.3L658.85 109.7L680.98 91.9L703.11 81.5L725.24 85.5L747.37 90.8L769.5 97.5L791.63 102.8L813.76 107.3L835.89 112L858.02 117.2L880.15 121.6" stroke="#4059bb" stroke-width="0.8" fill="none"/>
</g>
<path d="M539 47.3H903.6V319.5" stroke="#555" stroke-width="1.2" fill="none"/>
<path d="M539 47.3V319.5H903.6" stroke="#222" stroke-width="1.4" fill="none"/>
<path d="M534 311.7H539M534 259.2H539M534 206.7H539M534 154.2H539M534 101.7H539M534 49.2H539M536.5 301.2H539M536.5 290.7H539M536.5 280.2H539M536.5 269.7H539M536.5 248.7H539M536.5 238.2H539M536.5 227.7H539M536.5 217.2H539M536.5 196.2H539M536.5 185.7H539M536.5 175.2H539M536.5 164.7H539M536.5 143.7H539M536.5 133.2H539M536.5 122.7H539M536.5 112.2H539M536.5 91.2H539M536.5 80.7H539M536.5 70.2H539M536.5 59.7H539M548.2 319.5v5.5M592.46 319.5v5.5M636.72 319.5v5.5M680.98 319.5v5.5M725.24 319.5v5.5M769.5 319.5v5.5M813.76 319.5v5.5M858.02 319.5v5.5M902.28 319.5v5.5M570.33 319.5v2.8M614.59 319.5v2.8M658.85 319.5v2.8M703.11 319.5v2.8M747.37 319.5v2.8M791.63 319.5v2.8M835.89 319.5v2.8M880.15 319.5v2.8" stroke="#222" stroke-width="1.3" fill="none"/>
<text x="531.3" y="318" font-size="17" text-anchor="end" font-family="'Liberation Sans', sans-serif" fill="#222">0</text>
<text x="531.3" y="265.5" font-size="17" text-anchor="end" font-family="'Liberation Sans', sans-serif" fill="#222">0.1</text>
<text x="531.3" y="213" font-size="17" text-anchor="end" font-family="'Liberation Sans', sans-serif" fill="#222">0.2</text>
<text x="531.3" y="160.5" font-size="17" text-anchor="end" font-family="'Liberation Sans', sans-serif" fill="#222">0.3</text>
<text x="531.3" y="108" font-size="17" text-anchor="end" font-family="'Liberation Sans', sans-serif" fill="#222">0.4</text>
<text x="531.3" y="55.5" font-size="17" text-anchor="end" font-family="'Liberation Sans', sans-serif" fill="#222">0.5</text>
<text x="548.2" y="342.6" font-size="17" text-anchor="middle" font-family="'Liberation Sans', sans-serif" fill="#222">0</text>
<text x="592.46" y="342.6" font-size="17" text-anchor="middle" font-family="'Liberation Sans', sans-serif" fill="#222">2</text>
<text x="636.72" y="342.6" font-size="17" text-anchor="middle" font-family="'Liberation Sans', sans-serif" fill="#222">4</text>
<text x="680.98" y="342.6" font-size="17" text-anchor="middle" font-family="'Liberation Sans', sans-serif" fill="#222">6</text>
<text x="725.24" y="342.6" font-size="17" text-anchor="middle" font-family="'Liberation Sans', sans-serif" fill="#222">8</text>
<text x="769.5" y="342.6" font-size="17" text-anchor="middle" font-family="'Liberation Sans', sans-serif" fill="#222">10</text>
<text x="813.76" y="342.6" font-size="17" text-anchor="middle" font-family="'Liberation Sans', sans-serif" fill="#222">12</text>
<text x="858.02" y="342.6" font-size="17" text-anchor="middle" font-family="'Liberation Sans', sans-serif" fill="#222">14</text>
<text x="902.28" y="342.6" font-size="17" text-anchor="middle" font-family="'Liberation Sans', sans-serif" fill="#222">16</text>
<text x="695.24" y="367.2" font-size="18" font-style="italic" font-family="'Liberation Sans', sans-serif" fill="#222">V</text>
<text x="706.92" y="371.3" font-size="12" font-family="'Liberation Sans', sans-serif" fill="#222">DS</text>
<text x="729.25" y="367.6" font-size="17" font-family="'Liberation Sans', sans-serif" fill="#222">(V)</text>
<text transform="translate(492.2,219.7) rotate(-90)" font-size="17.5" font-family="'Liberation Sans', sans-serif" fill="#222"><tspan font-style="italic">I</tspan><tspan font-size="12" dy="4">D</tspan><tspan dy="-4"> (A/mm)</tspan></text>
<rect x="549.6" y="53.5" width="103" height="34" fill="#fff" stroke="#222" stroke-width="1.2"/>
<text x="563.42" y="75.3" font-size="16" font-style="italic" font-family="'Liberation Sans', sans-serif" fill="#222">V</text>
<text x="573.58" y="78.6" font-size="10.3" font-family="'Liberation Sans', sans-serif" fill="#222">GS</text>
<text x="593.32" y="75.4" font-size="16" font-family="'Liberation Sans', sans-serif" fill="#222">=</text>
<text x="606.96" y="75.4" font-size="16" font-family="'Liberation Sans', sans-serif" fill="#222">5</text>
<text x="619.63" y="75.4" font-size="16" font-family="'Liberation Sans', sans-serif" fill="#222">V</text>
<text transform="translate(758.3,77.8) rotate(14)" font-size="17.2" font-weight="bold" font-family="'Liberation Sans', sans-serif" fill="#2a2a7c">GaN-on-SiC</text>
<text transform="translate(739.8,178.2) rotate(13.5)" font-size="17.3" font-weight="bold" font-family="'Liberation Sans', sans-serif" fill="#c9281f">GaN-on-Si</text>
</svg>
</body></html>
